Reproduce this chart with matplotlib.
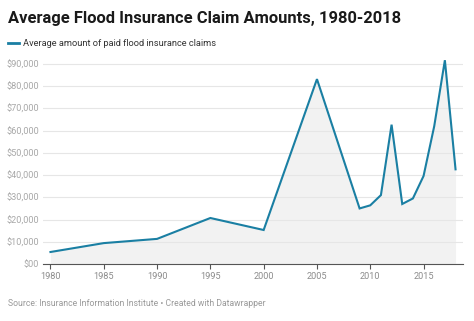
import matplotlib.pyplot as plt
from matplotlib.ticker import FuncFormatter

# values
years = [1980, 1985, 1990, 1995, 2000, 2005, 2009, 2010, 2011, 2012,
         2013, 2014, 2015, 2016, 2017, 2018]
claims = [5400, 9400, 11300, 20700, 15300, 83200, 25000, 26400, 31000, 62700,
          27000, 29500, 39600, 62000, 91700, 42600]
y_ticks = [0, 10000, 20000, 30000, 40000, 50000, 60000, 70000, 80000, 90000]
x_ticks = [1980, 1985, 1990, 1995, 2000, 2005, 2010, 2015]

title = "Average Flood Insurance Claim Amounts, 1980-2018"
legend_label = "Average amount of paid flood insurance claims"
source = "Source: Insurance Information Institute \u2022 Created with Datawrapper"

plt.rcParams['font.family'] = ['Roboto', 'DejaVu Sans']

line_color = '#1a7fa3'
W, H = 474, 321
fig = plt.figure(figsize=(W / 100, H / 100), dpi=100)
ax = fig.add_axes([43 / W, (H - 264) / H, 420 / W, (264 - 56) / H])

ax.fill_between(years, claims, 0, color='#f2f2f2', lw=0, zorder=1)
ax.plot(years, claims, color=line_color, lw=1.5, zorder=3, solid_joinstyle='miter')

ax.set_xlim(1979.3, 2018.7)
ax.set_ylim(0, 93600)
ax.set_yticks(y_ticks)
ax.set_xticks(x_ticks)

def money(v, pos):
    return '$00' if v == 0 else f'${int(v):,}'

ax.yaxis.set_major_formatter(FuncFormatter(money))
ax.grid(axis='y', color='#e6e6e6', lw=0.8, zorder=0)
for s in ['top', 'right', 'left']:
    ax.spines[s].set_visible(False)
ax.spines['bottom'].set_color('#555555')
ax.spines['bottom'].set_linewidth(0.8)
ax.tick_params(axis='y', length=0, pad=3, labelsize=6.6, labelcolor='#a8a8a8')
ax.tick_params(axis='x', length=3.5, width=0.8, color='#555555', pad=2,
               labelsize=6.6, labelcolor='#8c8c8c')

fig.text(8 / W, 1 - 18 / H, title, fontsize=11.9, fontweight='bold',
         color='#1a1a1a', va='center', ha='left')
fig.add_artist(plt.Line2D([8 / W, 19 / W], [1 - 42.7 / H] * 2,
                          color=line_color, lw=2))
fig.text(23 / W, 1 - 43 / H, legend_label, fontsize=6.7, color='#333333',
         va='center', ha='left')
fig.text(8 / W, 1 - 303 / H, source, fontsize=6.2, color='#999999',
         va='center', ha='left')

fig.savefig('out.png', dpi=100)
